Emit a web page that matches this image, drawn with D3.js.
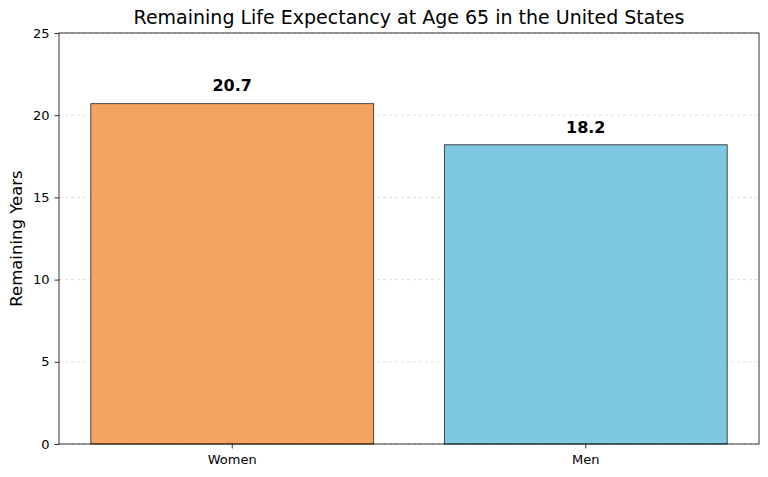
<!DOCTYPE html>
<html><head><meta charset="utf-8">
<script src="https://cdn.jsdelivr.net/npm/d3@7"></script>
<style>body{margin:0;background:#fff}svg{display:block}text{font-family:"DejaVu Sans",sans-serif}</style>
</head><body>
<svg id="c" width="768" height="477"></svg>
<script>
const categories = ["Women", "Men"];
const values = [20.7, 18.2];
const colors = ["#F4A460", "#7EC8E3"];
const yTicks = [0, 5, 10, 15, 20, 25];
const title = "Remaining Life Expectancy at Age 65 in the United States";
const yLabel = "Remaining Years";

const svg = d3.select("#c");
const m = {l: 59, r: 9, t: 33, b: 33};
const W = 768, H = 477;
const x = d3.scaleBand().domain(categories).range([m.l, W - m.r]).paddingInner(0.2).paddingOuter(0.09);
const y = d3.scaleLinear().domain([0, 25]).range([H - m.b, m.t]);

// grid
svg.append("g").selectAll("line").data(yTicks).join("line")
  .attr("x1", m.l).attr("x2", W - m.r)
  .attr("y1", d => y(d)).attr("y2", d => y(d))
  .attr("stroke", "#b0b0b0").attr("stroke-opacity", 0.5).attr("stroke-width", 0.8)
  .attr("stroke-dasharray", "3,3");

// bars
svg.append("g").selectAll("rect").data(values).join("rect")
  .attr("x", (d, i) => x(categories[i]))
  .attr("width", x.bandwidth())
  .attr("y", d => y(d))
  .attr("height", d => y(0) - y(d))
  .attr("fill", (d, i) => colors[i])
  .attr("stroke", "#222").attr("stroke-width", 0.8);

// value labels
svg.append("g").selectAll("text").data(values).join("text")
  .attr("x", (d, i) => x(categories[i]) + x.bandwidth() / 2)
  .attr("y", d => y(d + 0.5) - 4)
  .attr("text-anchor", "middle")
  .attr("font-size", 16).attr("font-weight", "bold")
  .text(d => d.toFixed(1));

// axes
const ya = svg.append("g").attr("transform", `translate(${m.l},0)`)
  .call(d3.axisLeft(y).tickValues(yTicks).tickSize(4.5).tickPadding(5));
const xa = svg.append("g").attr("transform", `translate(0,${H - m.b})`)
  .call(d3.axisBottom(x).tickSize(4.5).tickPadding(6));
[ya, xa].forEach(g => {
  g.select(".domain").remove();
  g.selectAll("text").attr("font-size", 13).attr("fill", "#000").style("font-family", "DejaVu Sans");
  g.selectAll("line").attr("stroke", "#000").attr("stroke-width", 0.8);
});

// frame
svg.append("rect").attr("x", m.l).attr("y", m.t).attr("width", W - m.r - m.l).attr("height", H - m.b - m.t)
  .attr("fill", "none").attr("stroke", "#000").attr("stroke-width", 0.8);

svg.append("text").attr("x", (m.l + W - m.r) / 2).attr("y", m.t - 9)
  .attr("text-anchor", "middle").attr("font-size", 19).text(title);

svg.append("text").attr("transform", `translate(22,${(m.t + H - m.b) / 2}) rotate(-90)`)
  .attr("text-anchor", "middle").attr("font-size", 16.5).text(yLabel);
</script>
</body></html>
